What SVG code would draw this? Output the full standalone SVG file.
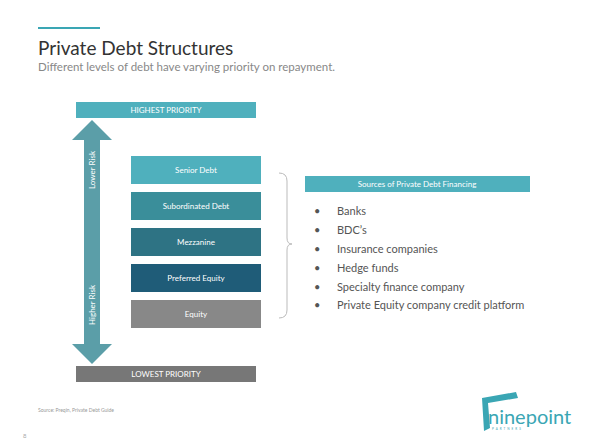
<svg xmlns="http://www.w3.org/2000/svg" width="600" height="448" viewBox="0 0 600 448">
<style>
text{font-family:Lato,"Liberation Sans",sans-serif}
.bt{fill:#fff;font-size:8px;text-anchor:middle}
.li{fill:#555;font-size:11px}
</style>
<rect width="600" height="448" fill="#fff"/>
<line x1="38" y1="28" x2="100" y2="28" stroke="#3aa6b4" stroke-width="2"/>
<text x="38" y="55" font-size="19" fill="#333">Private Debt Structures</text>
<text x="38" y="71" font-size="11.5" fill="#888">Different levels of debt have varying priority on repayment.</text>
<g id="highest"><rect x="76" y="102" width="180" height="16" fill="#4fb0bd"/><text class="bt" x="166" y="113">HIGHEST PRIORITY</text></g>
<g id="lowest"><rect x="76" y="366" width="180" height="16" fill="#777"/><text class="bt" x="166" y="377">LOWEST PRIORITY</text></g>
<g id="arrow"><polygon points="92,120 112,140 100,140 100,344 112,344 92,364 72,344 84,344 84,140 72,140" fill="#5b9ea8"/>
<text class="bt" font-size="10" transform="translate(95,170) rotate(-90)">Lower Risk</text>
<text class="bt" font-size="10" transform="translate(95,305) rotate(-90)">Higher Risk</text></g>
<g id="senior"><rect x="131" y="156" width="130" height="28" fill="#4fb0bd"/><text class="bt" x="196" y="173">Senior Debt</text></g>
<g id="sub"><rect x="131" y="192" width="130" height="28" fill="#3a8e9a"/><text class="bt" x="196" y="209">Subordinated Debt</text></g>
<g id="mezz"><rect x="131" y="228" width="130" height="28" fill="#2e7384"/><text class="bt" x="196" y="245">Mezzanine</text></g>
<g id="pref"><rect x="131" y="264" width="130" height="28" fill="#1f5c78"/><text class="bt" x="196" y="281">Preferred Equity</text></g>
<g id="equity"><rect x="131" y="300" width="130" height="28" fill="#888"/><text class="bt" x="196" y="317">Equity</text></g>
<g id="connectors"><path d="M279,173 Q287,173 287,181 L287,238 Q287,244 292,244 Q287,244 287,250 L287,310 Q287,318 279,318" fill="none" stroke="#bbb" stroke-width="1"/></g>
<g id="sources"><rect x="305" y="176" width="225" height="16" fill="#4fb0bd"/><text class="bt" x="417" y="187">Sources of Private Debt Financing</text>
<g class="li">
<text x="314" y="215">•</text><text x="337" y="215">Banks</text>
<text x="314" y="234">•</text><text x="337" y="234">BDC’s</text>
<text x="314" y="253">•</text><text x="337" y="253">Insurance companies</text>
<text x="314" y="272">•</text><text x="337" y="272">Hedge funds</text>
<text x="314" y="291">•</text><text x="337" y="291">Specialty finance company</text>
<text x="314" y="309">•</text><text x="337" y="309">Private Equity company credit platform</text>
</g></g>
<text x="38" y="412" font-size="5" fill="#999">Source: Preqin, Private Debt Guide</text>
<text x="23" y="438" font-size="6" fill="#aaa">8</text>
<g id="logo"><polygon points="482,398 516,392 518,398 488,403 490,428 484,431" fill="#3aa6b4"/>
<text x="488" y="424" font-size="20" fill="#3aa6b4">ninepoint</text>
<text x="492" y="430" font-size="3" fill="#3aa6b4" letter-spacing="2">PARTNERS</text></g>
</svg>
